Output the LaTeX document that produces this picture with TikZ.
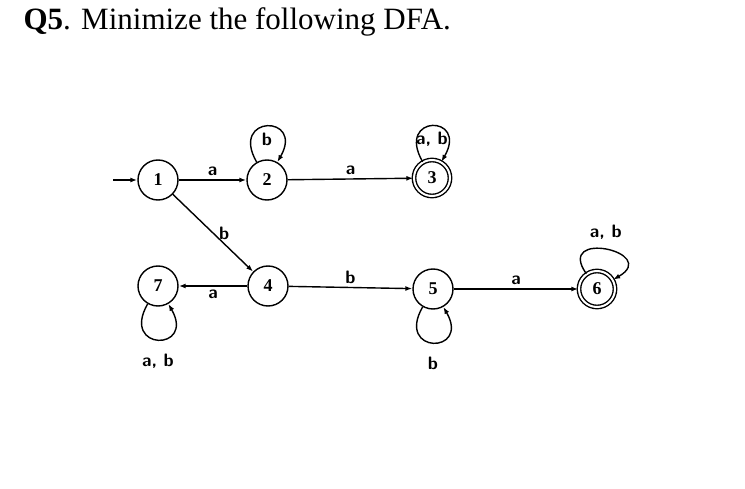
\documentclass[tikz,border=0pt]{standalone}
\usepackage{fontspec}
\setmainfont{Liberation Serif}
\usetikzlibrary{arrows.meta,automata}
\begin{document}
\begin{tikzpicture}[x=1pt,y=-1pt,
  st/.style={circle,draw,line width=1.4pt,minimum size=40pt,inner sep=0pt,font=\bfseries\fontsize{18}{18}\selectfont},
  acc/.style={st,double,double distance=2pt,minimum size=36pt},
  lab/.style={font=\sffamily\bfseries\fontsize{18}{18}\selectfont},
  tr/.style={draw,line width=1.4pt,-{Latex[length=7pt,width=5pt]}},
  lp/.style={tr,distance=55pt}]
\useasboundingbox (0,0) rectangle (745,489);
\node[anchor=base west,font=\fontsize{31}{31}\selectfont] (t) at (20,30) {\textbf{Q5}. Minimize the following DFA.};
\node[st] (n1) at (158,180) {1};
\node[st] (n2) at (267,180) {2};
\node[acc] (n3) at (432,178) {3};
\node[st] (n4) at (268,286) {4};
\node[st] (n5) at (433,289) {5};
\node[acc] (n6) at (597,289) {6};
\node[st] (n7) at (158,286) {7};
\coordinate (s) at (113,180);
\path[tr] (s) -- (n1);
\path[tr] (n1) -- node[lab,above,pos=0.5]{a} (n2);
\path[tr] (n2) -- node[lab,above,pos=0.5]{a} (n3);
\path[tr] (n1) -- node[lab,right,pos=0.5,xshift=2pt]{b} (n4);
\path[tr] (n4) -- node[lab,below,pos=0.5]{a} (n7);
\path[tr] (n4) -- node[lab,above,pos=0.5]{b} (n5);
\path[tr] (n5) -- node[lab,above,pos=0.5]{a} (n6);
\path[lp] (n2) to[out=120,in=60] node[lab,pos=0.5,yshift=-13pt]{b} (n2);
\path[lp] (n3) to[out=120,in=60] node[lab,pos=0.5,yshift=-13pt]{a, b} (n3);
\path[lp] (n6) to[out=125,in=30] node[lab,pos=0.5,above,yshift=6pt]{a, b} (n6);
\path[lp] (n7) to[out=-120,in=-60] node[lab,below,pos=0.5,yshift=-10pt]{a, b} (n7);
\path[lp] (n5) to[out=-120,in=-60] node[lab,below,pos=0.5,yshift=-10pt]{b} (n5);
\end{tikzpicture}
\end{document}
